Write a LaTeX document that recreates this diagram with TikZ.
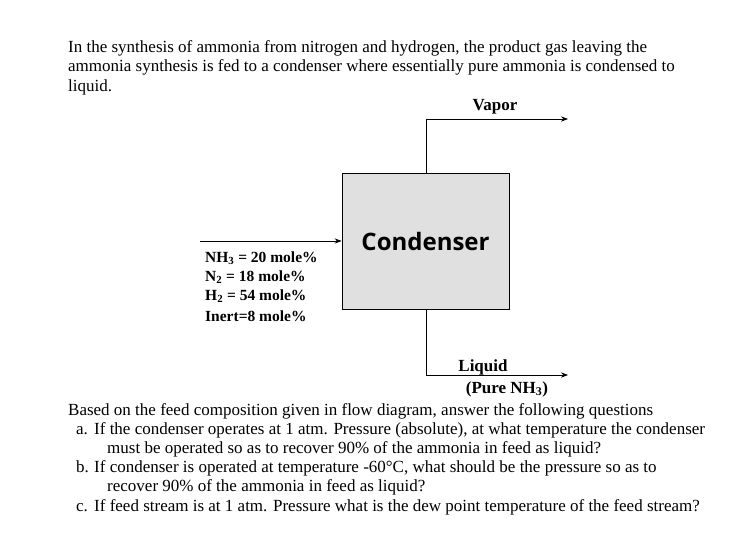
\documentclass[tikz,border=0pt]{standalone}
\usepackage{fontspec}
\setmainfont{Liberation Serif}
\newfontfamily\condfont{Open Sans}
\usetikzlibrary{arrows.meta}

\begin{document}
\begin{tikzpicture}[x=1pt,y=-1pt,
    txt/.style={anchor=base west,inner sep=0pt,font=\fontsize{17}{20}\selectfont},
    lbl/.style={inner sep=0pt,font=\fontsize{17}{20}\selectfont\bfseries},
    comp/.style={anchor=west,inner sep=0pt,font=\fontsize{15.5}{18}\selectfont\bfseries},
    stream/.style={thick,-{Stealth[length=7pt]}}]
    \useasboundingbox (0,0) rectangle (745,549);
    % problem statement
    \node[txt] (p1) at (68,52) {In the synthesis of ammonia from nitrogen and hydrogen, the product gas leaving the};
    \node[txt] (p2) at (68,71) {ammonia synthesis is fed to a condenser where essentially pure ammonia is condensed to};
    \node[txt] (p3) at (68,91) {liquid.};
    % flow diagram
    \node[draw,thick,fill=black!12,minimum width=167pt,minimum height=136pt,inner sep=0pt,
          font=\condfont\fontsize{24}{28}\selectfont\bfseries] (cond) at (425.5,241) {Condenser};
    \coordinate (feed) at (200,241);
    \coordinate (vtop) at (426,119);
    \coordinate (vout) at (568,119);
    \coordinate (lbot) at (426,375);
    \coordinate (lout) at (568,375);
    \draw[stream] (feed) -- (cond.west);
    \draw[stream] (cond.north -| vtop) -- (vtop) -- (vout);
    \draw[stream] (cond.south -| lbot) -- (lbot) -- (lout);
    \node[lbl] (vap) at (495,107) {Vapor};
    \node[lbl] (liq) at (483,367) {Liquid};
    \node[lbl] (pure) at (507,389) {(Pure NH\textsubscript{3})};
    \node[comp] (c1) at (205,258) {NH\textsubscript{3} = 20 mole\%};
    \node[comp] (c2) at (205,277) {N\textsubscript{2} = 18 mole\%};
    \node[comp] (c3) at (205,296) {H\textsubscript{2} = 54 mole\%};
    \node[comp] (c4) at (205,316) {Inert=8 mole\%};
    % questions
    \node[txt] (q0) at (68,415) {Based on the feed composition given in flow diagram, answer the following questions};
    \node[txt] (qa) at (76,434) {a.};
    \node[txt] (qa1) at (94,434) {If the condenser operates at 1 atm. Pressure (absolute), at what temperature the condenser};
    \node[txt] (qa2) at (107,453) {must be operated so as to recover 90\% of the ammonia in feed as liquid?};
    \node[txt] (qb) at (76,472) {b.};
    \node[txt] (qb1) at (94,472) {If condenser is operated at temperature -60\textdegree C, what should be the pressure so as to};
    \node[txt] (qb2) at (107,491) {recover 90\% of the ammonia in feed as liquid?};
    \node[txt] (qc) at (76,511) {c.};
    \node[txt] (qc1) at (94,511) {If feed stream is at 1 atm. Pressure what is the dew point temperature of the feed stream?};
\end{tikzpicture}
\end{document}
